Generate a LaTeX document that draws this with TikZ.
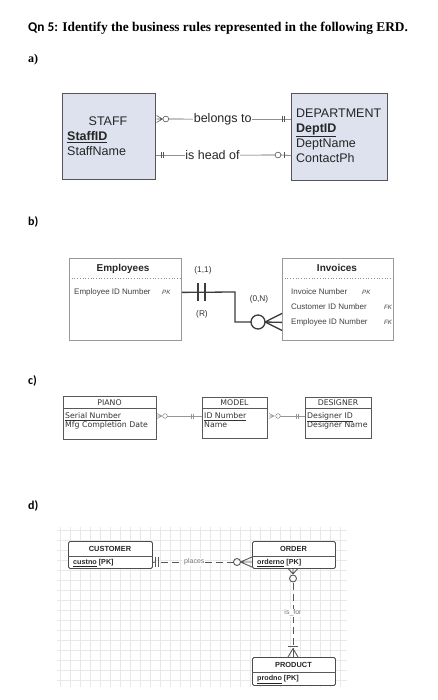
\documentclass[tikz,border=0pt]{standalone}
\usepackage{fontspec}
\setmainfont{Liberation Serif}
\newfontfamily\arialf{Liberation Sans}
\newfontfamily\verdf{DejaVu Sans}
\newfontfamily\calibf{Carlito}
\newcommand{\fsz}[1]{\fontsize{#1}{#1}\selectfont}
\definecolor{boxblue}{RGB}{221,226,238}
\definecolor{agray}{RGB}{85,85,85}
\definecolor{bgray}{RGB}{60,60,60}
\definecolor{cgray}{RGB}{150,150,150}
\definecolor{gridc}{RGB}{232,232,232}
\tikzset{
  abox/.style={draw=agray, fill=boxblue, line width=0.9pt, inner sep=0pt},
  atext/.style={font=\arialf\fsz{12.5}, inner sep=0pt, text=black!85},
  aline/.style={draw=agray, line width=0.6pt},
  bbox/.style={draw=black!40, line width=0.8pt, inner sep=0pt},
  btext/.style={font=\arialf\fsz{8}, inner sep=0pt, text=black!75},
  bhead/.style={font=\arialf\bfseries\fsz{10}, inner sep=0pt, text=black!85},
  bkey/.style={font=\arialf\itshape\fsz{6.2}, inner sep=0pt, text=black!75},
  blabel/.style={font=\arialf\fsz{8.3}, inner sep=0pt, text=black!80},
  bline/.style={draw=bgray, line width=1.3pt},
  cbox/.style={draw=black!65, line width=0.8pt, inner sep=0pt},
  ctext/.style={font=\verdf\fsz{7.8}, inner sep=0pt, text=black!80},
  cline/.style={draw=cgray, line width=0.6pt},
  dbox/.style={draw=black!70, line width=0.9pt, rounded corners=1.5pt, fill=white, inner sep=0pt},
  dhead/.style={font=\arialf\bfseries\fsz{7.4}, inner sep=0pt, text=black!85},
  dtext/.style={font=\arialf\bfseries\fsz{7.2}, inner sep=0pt, text=black!85},
  dline/.style={draw=black!65, line width=0.9pt},
  ddash/.style={draw=black!65, line width=0.9pt, dash pattern=on 7pt off 4pt},
  dlabel/.style={font=\arialf\fsz{7}, inner sep=0.8pt, text=black!55, fill=white},
  qlabel/.style={inner sep=0pt, anchor=base west},
}
\begin{document}
\begin{tikzpicture}[x=1pt,y=-1pt]
\useasboundingbox (0,0) rectangle (438,700);
\fill[white] (0,0) rectangle (438,700);

% ---------- title and labels ----------
\node[qlabel, font=\fsz{13.35}] (title) at (28,32) {{\calibf\bfseries Qn 5:} \bfseries Identify the business rules represented in the following ERD.};
\node[qlabel, font=\bfseries\fsz{12}] (la) at (28,63) {a)};
\node[qlabel, font=\calibf\bfseries\fsz{12}] (lb) at (28,226) {b)};
\node[qlabel, font=\calibf\bfseries\fsz{12}] (lc) at (28,384) {c)};
\node[qlabel, font=\calibf\bfseries\fsz{12}] (ld) at (28,509) {d)};

% ---------- a) ----------
\node[abox, anchor=north west, minimum width=93pt, minimum height=86pt] (staff) at (62,93) {};
\node[abox, anchor=north west, minimum width=96pt, minimum height=87pt] (dept) at (291,93) {};
\node[atext, anchor=base] (staffT) at (108,125.5) {STAFF};
\node[atext, anchor=base west] (staffid) at (67,140.5) {\textbf{\underline{StaffID}}};
\node[atext, anchor=base west] (staffnm) at (67,155.5) {StaffName};
\node[atext, anchor=base west] (deptT) at (296,117.5) {DEPARTMENT};
\node[atext, anchor=base west] (deptid) at (296,132.5) {\textbf{\underline{DeptID}}};
\node[atext, anchor=base west] (deptnm) at (296,147.5) {DeptName};
\node[atext, anchor=base west] (deptph) at (296,162.5) {ContactPh};

% belongs to
\coordinate (a1s) at (169,119);
\draw[aline] (a1s) -- ([yshift=17.5pt]dept.west)
  node[pos=0.44, atext, fill=white, inner xsep=0.5pt] (belongs) {belongs to};
\draw[aline] (156.5,115.5) -- (162.5,119) -- (156.5,122.5) (156.5,119) -- (162.5,119);
\draw[aline] (165.8,119) circle (2.9);
\draw[aline] (282,116) -- (282,122) (284.5,116) -- (284.5,122);
% is head of
\draw[aline] ([yshift=-19pt]staff.east) -- (275,155)
  node[pos=0.475, atext, fill=white, inner xsep=0.5pt] (ishead) {is head of};
\draw[aline] (281,155) -- ([yshift=-18.5pt]dept.west);
\draw[aline] (161,152) -- (161,158) (163.5,152) -- (163.5,158);
\draw[aline] (278,155) circle (2.9);
\draw[aline] (284,152) -- (284,158);

% ---------- b) ----------
\node[bbox, anchor=north west, minimum width=112pt, minimum height=82pt] (emp) at (69,258) {};
\node[bbox, anchor=north west, minimum width=111pt, minimum height=82pt] (inv) at (282,258) {};
\draw[black!45, line width=0.7pt, dotted] (emp.north west |- 0,278) -- (emp.north east |- 0,278);
\draw[black!45, line width=0.7pt, dotted] (inv.north west |- 0,278) -- (inv.north east |- 0,278);
\node[bhead, anchor=base] (empT) at (123,271) {Employees};
\node[bhead, anchor=base] (invT) at (337,271) {Invoices};
\node[btext, anchor=base west] (empid) at (74,294) {Employee ID Number};
\node[bkey, anchor=base west] (emppk) at (162,294) {PK};
\node[btext, anchor=base west] (invno) at (291,294) {Invoice Number};
\node[bkey, anchor=base west] (invpk) at (362,294) {PK};
\node[btext, anchor=base west] (invcu) at (291,309.5) {Customer ID Number};
\node[bkey, anchor=base west] (invfk1) at (384,309.5) {FK};
\node[btext, anchor=base west] (invem) at (291,324) {Employee ID Number};
\node[bkey, anchor=base west] (invfk2) at (384,324) {FK};

\coordinate (bcircle) at (258,322);
\draw[bline] ([yshift=7pt]emp.east) -- (235,292) -- (235,322) -- (251,322);
\draw[bline] (bcircle) circle (7);
\draw[bline] (265,322) -- ([yshift=-14pt]inv.west)
             (265,322) -- ([yshift=-23pt]inv.west)
             (265,322) -- ([yshift=-31pt]inv.west);
\draw[bline] (198,283) -- (198,301) (205,283) -- (205,301);
\node[blabel] (l11) at (203,270) {(1,1)};
\node[blabel] (lR) at (202,314) {(R)};
\node[blabel] (l0N) at (259,299) {(0,N)};

% ---------- c) ----------
\node[cbox, anchor=north west, minimum width=93pt, minimum height=43pt] (piano) at (63,396) {};
\node[cbox, anchor=north west, minimum width=65pt, minimum height=41pt] (model) at (202,397) {};
\node[cbox, anchor=north west, minimum width=66pt, minimum height=41pt] (desig) at (305,397) {};
\draw[cbox] (piano.north west |- 0,408.5) -- (piano.north east |- 0,408.5);
\draw[cbox] (model.north west |- 0,408.5) -- (model.north east |- 0,408.5);
\draw[cbox] (desig.north west |- 0,408.5) -- (desig.north east |- 0,408.5);
\node[ctext, anchor=base] (pianoT) at (109.5,405.5) {PIANO};
\node[ctext, anchor=base] (modelT) at (234.5,405.5) {MODEL};
\node[ctext, anchor=base] (desigT) at (338,405.5) {DESIGNER};
\node[ctext, anchor=base west] (serial) at (65,418.3) {\underline{Serial Number}};
\node[ctext, anchor=base west] (mfg) at (65,427.5) {Mfg Completion Date};
\node[ctext, anchor=base west] (idnum) at (204,418.3) {\underline{ID Number}};
\node[ctext, anchor=base west] (mname) at (204,427.5) {Name};
\node[ctext, anchor=base west] (desid) at (307,418.3) {\underline{Designer ID}};
\node[ctext, anchor=base west] (desnm) at (307,427.5) {Designer Name};

\draw[cline] (167.3,416) -- (model.west |- 0,416);
\draw[cline] (157,413.5) -- (162,416) -- (157,418.5) (157,416) -- (162,416);
\draw[cline] (165,416) circle (2.3);
\draw[cline] (191.5,413.5) -- (191.5,418.5) (193.5,413.5) -- (193.5,418.5);
\draw[cline] (280.3,416) -- (desig.west |- 0,416);
\draw[cline] (269,413.5) -- (274,416) -- (269,418.5) (269,416) -- (274,416);
\draw[cline] (278,416) circle (2.3);
\draw[cline] (296,413.5) -- (296,418.5) (298,413.5) -- (298,418.5);

% ---------- d) ----------
\draw[gridc, line width=0.4pt] (57,527) grid[step=10pt] (347,687);
\node[dbox, anchor=north west, minimum width=84pt, minimum height=27pt] (cust) at (68,541) {};
\node[dbox, anchor=north west, minimum width=83pt, minimum height=27pt] (order) at (252,541) {};
\node[dbox, anchor=north west, minimum width=83pt, minimum height=28pt] (prod) at (252,657) {};
\draw[dline] (cust.north west |- 0,556) -- (cust.north east |- 0,556);
\draw[dline] (order.north west |- 0,556) -- (order.north east |- 0,556);
\draw[dline] (prod.north west |- 0,672) -- (prod.north east |- 0,672);
\node[dhead, anchor=base] (custT) at (110,551.5) {CUSTOMER};
\node[dhead, anchor=base] (orderT) at (293.5,551.5) {ORDER};
\node[dhead, anchor=base] (prodT) at (293.5,667.5) {PRODUCT};
\node[dtext, anchor=base west] (custno) at (73,564.5) {\underline{custno} [PK]};
\node[dtext, anchor=base west] (orderno) at (257,564.5) {\underline{orderno} [PK]};
\node[dtext, anchor=base west] (prodno) at (257,680.5) {\underline{prodno} [PK]};

% places
\draw[dline] ([yshift=-7.5pt]cust.east) -- (155,562);
\draw[dline] (155.5,557) -- (155.5,567) (158.5,557) -- (158.5,567);
\draw[ddash] (161,562) -- (233.5,562)
  node[pos=0.46, dlabel] (places) {places};
\draw[dline] (237,562) circle (3.5);
\draw[dline] (240.5,562) -- ([yshift=5pt]order.west |- 0,562)
             (240.5,562) -- (order.west |- 0,562)
             (240.5,562) -- ([yshift=-5pt]order.west |- 0,562);
% is_for
\draw[dline] (293,574) -- ([xshift=-4.5pt]order.south -| 293,0)
             (293,574) -- (order.south -| 293,0)
             (293,574) -- ([xshift=4.5pt]order.south -| 293,0);
\draw[dline] (293,578.5) circle (3.5);
\draw[ddash] (293,583) -- (293,648)
  node[pos=0.46, dlabel] (isfor) {is\_for};
\draw[dline] (293,648) -- (293,657);
\draw[dline] (288,646) -- (298,646);
\draw[dline] (293,648.5) -- ([xshift=-5pt]prod.north -| 293,0)
             (293,648.5) -- ([xshift=5pt]prod.north -| 293,0);
\end{tikzpicture}
\end{document}
